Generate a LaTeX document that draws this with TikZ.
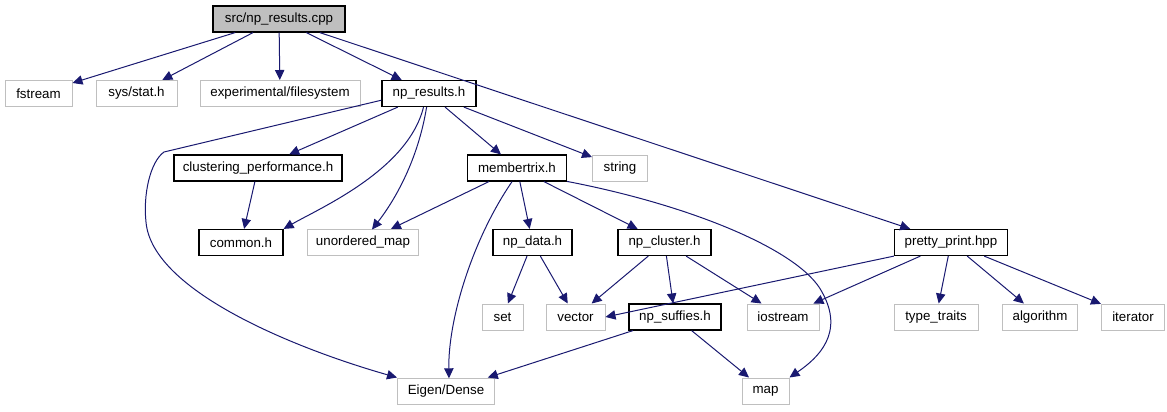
\documentclass[tikz,border=0pt]{standalone}
\usepackage{fontspec}
\setmainfont{Liberation Sans}
\usetikzlibrary{arrows.meta}
\definecolor{edgecol}{HTML}{191970}
\definecolor{greyline}{HTML}{BFBFBF}
\begin{document}
\begin{tikzpicture}[x=0.75pt,y=-0.75pt,
  box/.style={draw=black, line width=0.9pt, minimum height=19.5pt, inner xsep=0pt, inner ysep=0pt, font=\fontsize{10}{12}\selectfont},
  ext/.style={box, draw=greyline, line width=0.75pt},
  dep/.style={draw=edgecol, line width=0.75pt, -{Triangle[length=7.5pt,width=7pt]}}]
\useasboundingbox (0,0) rectangle (1167,411);
% row 1
\node[box, fill=greyline, minimum width=99pt] (cpp) at (279,19) {src/np\_results.cpp};
% row 2
\node[ext, minimum width=50.25pt] (fstream) at (38.5,93.5) {fstream};
\node[ext, minimum width=60.75pt] (sysstat) at (136.5,93.5) {sys/stat.h};
\node[ext, minimum width=120pt] (expfs) at (280,93.5) {experimental/filesystem};
\node[box, minimum width=70.5pt] (npr) at (429,93.5) {np\_results.h};
% row 3
\node[box, minimum width=126pt] (clus) at (258,168) {clustering\_performance.h};
\node[box, minimum width=74.25pt] (memb) at (517,168) {membertrix.h};
\node[ext, minimum width=41.25pt] (string) at (620,168) {string};
% row 4
\node[box, minimum width=63pt] (common) at (241,242.5) {common.h};
\node[ext, minimum width=83.25pt] (umap) at (363,242.5) {unordered\_map};
\node[box, minimum width=59.25pt] (npdata) at (532.5,242.5) {np\_data.h};
\node[box, minimum width=69.75pt] (npcl) at (664.5,242.5) {np\_cluster.h};
\node[box, minimum width=84.75pt] (pp) at (951,242.5) {pretty\_print.hpp};
% row 5
\node[ext, minimum width=30.75pt] (set) at (502.5,317) {set};
\node[ext, minimum width=44.25pt] (vector) at (575.5,317) {vector};
\node[box, minimum width=69pt] (npsuf) at (675,317) {np\_suffies.h};
\node[ext, minimum width=54pt] (iostream) at (783,317) {iostream};
\node[ext, minimum width=63pt] (tt) at (936,317) {type\_traits};
\node[ext, minimum width=56.25pt] (alg) at (1040,317) {algorithm};
\node[ext, minimum width=47.25pt] (iter) at (1133,317) {iterator};
% row 6
\node[ext, minimum width=72.75pt] (eigen) at (446,391) {Eigen/Dense};
\node[ext, minimum width=35.25pt] (map) at (765.5,391) {map};
% edges from cpp
\draw[dep] (cpp) -- (fstream);
\draw[dep] (cpp) -- (sysstat);
\draw[dep] (cpp) -- (expfs);
\draw[dep] (cpp) -- (npr);
\draw[dep] (cpp) -- (pp);
% edges from np_results.h
\draw[dep] (npr) -- (clus);
\draw[dep] (npr.-112) .. controls (408,170) and (320,208) .. (common.north east);
\draw[dep] (npr.-100) .. controls (418,160) and (395,200) .. (372,229.5);
\draw[dep] (npr) -- (memb);
\draw[dep] (npr) -- (string);
\draw[dep] (npr.-172) -- (164,152) .. controls (150,162) and (143,195) .. (146,222)
  .. controls (152,292) and (300,350) .. (eigen.north west);
% clustering
\draw[dep] (clus) -- (common);
% membertrix
\draw[dep] (memb) -- (umap);
\draw[dep] (memb.-110) .. controls (472,240) and (448,320) .. (449,378.3);
\draw[dep] (memb) -- (npdata);
\draw[dep] (memb) -- (npcl);
\draw[dep] (memb.-15) .. controls (690,205) and (800,250) .. (822,292)
  .. controls (845,333) and (818,358) .. (map.north east);
% np_data
\draw[dep] (npdata) -- (set);
\draw[dep] (npdata) -- (vector);
% np_cluster
\draw[dep] (npcl) -- (vector);
\draw[dep] (npcl) -- (npsuf);
\draw[dep] (npcl) -- (iostream);
% pretty_print
\draw[dep] (pp.south west) -- (vector.east);
\draw[dep] (pp) -- (iostream);
\draw[dep] (pp) -- (tt);
\draw[dep] (pp) -- (alg);
\draw[dep] (pp) -- (iter);
% np_suffies
\draw[dep] (npsuf) -- (eigen);
\draw[dep] (npsuf) -- (map);
\end{tikzpicture}
\end{document}
